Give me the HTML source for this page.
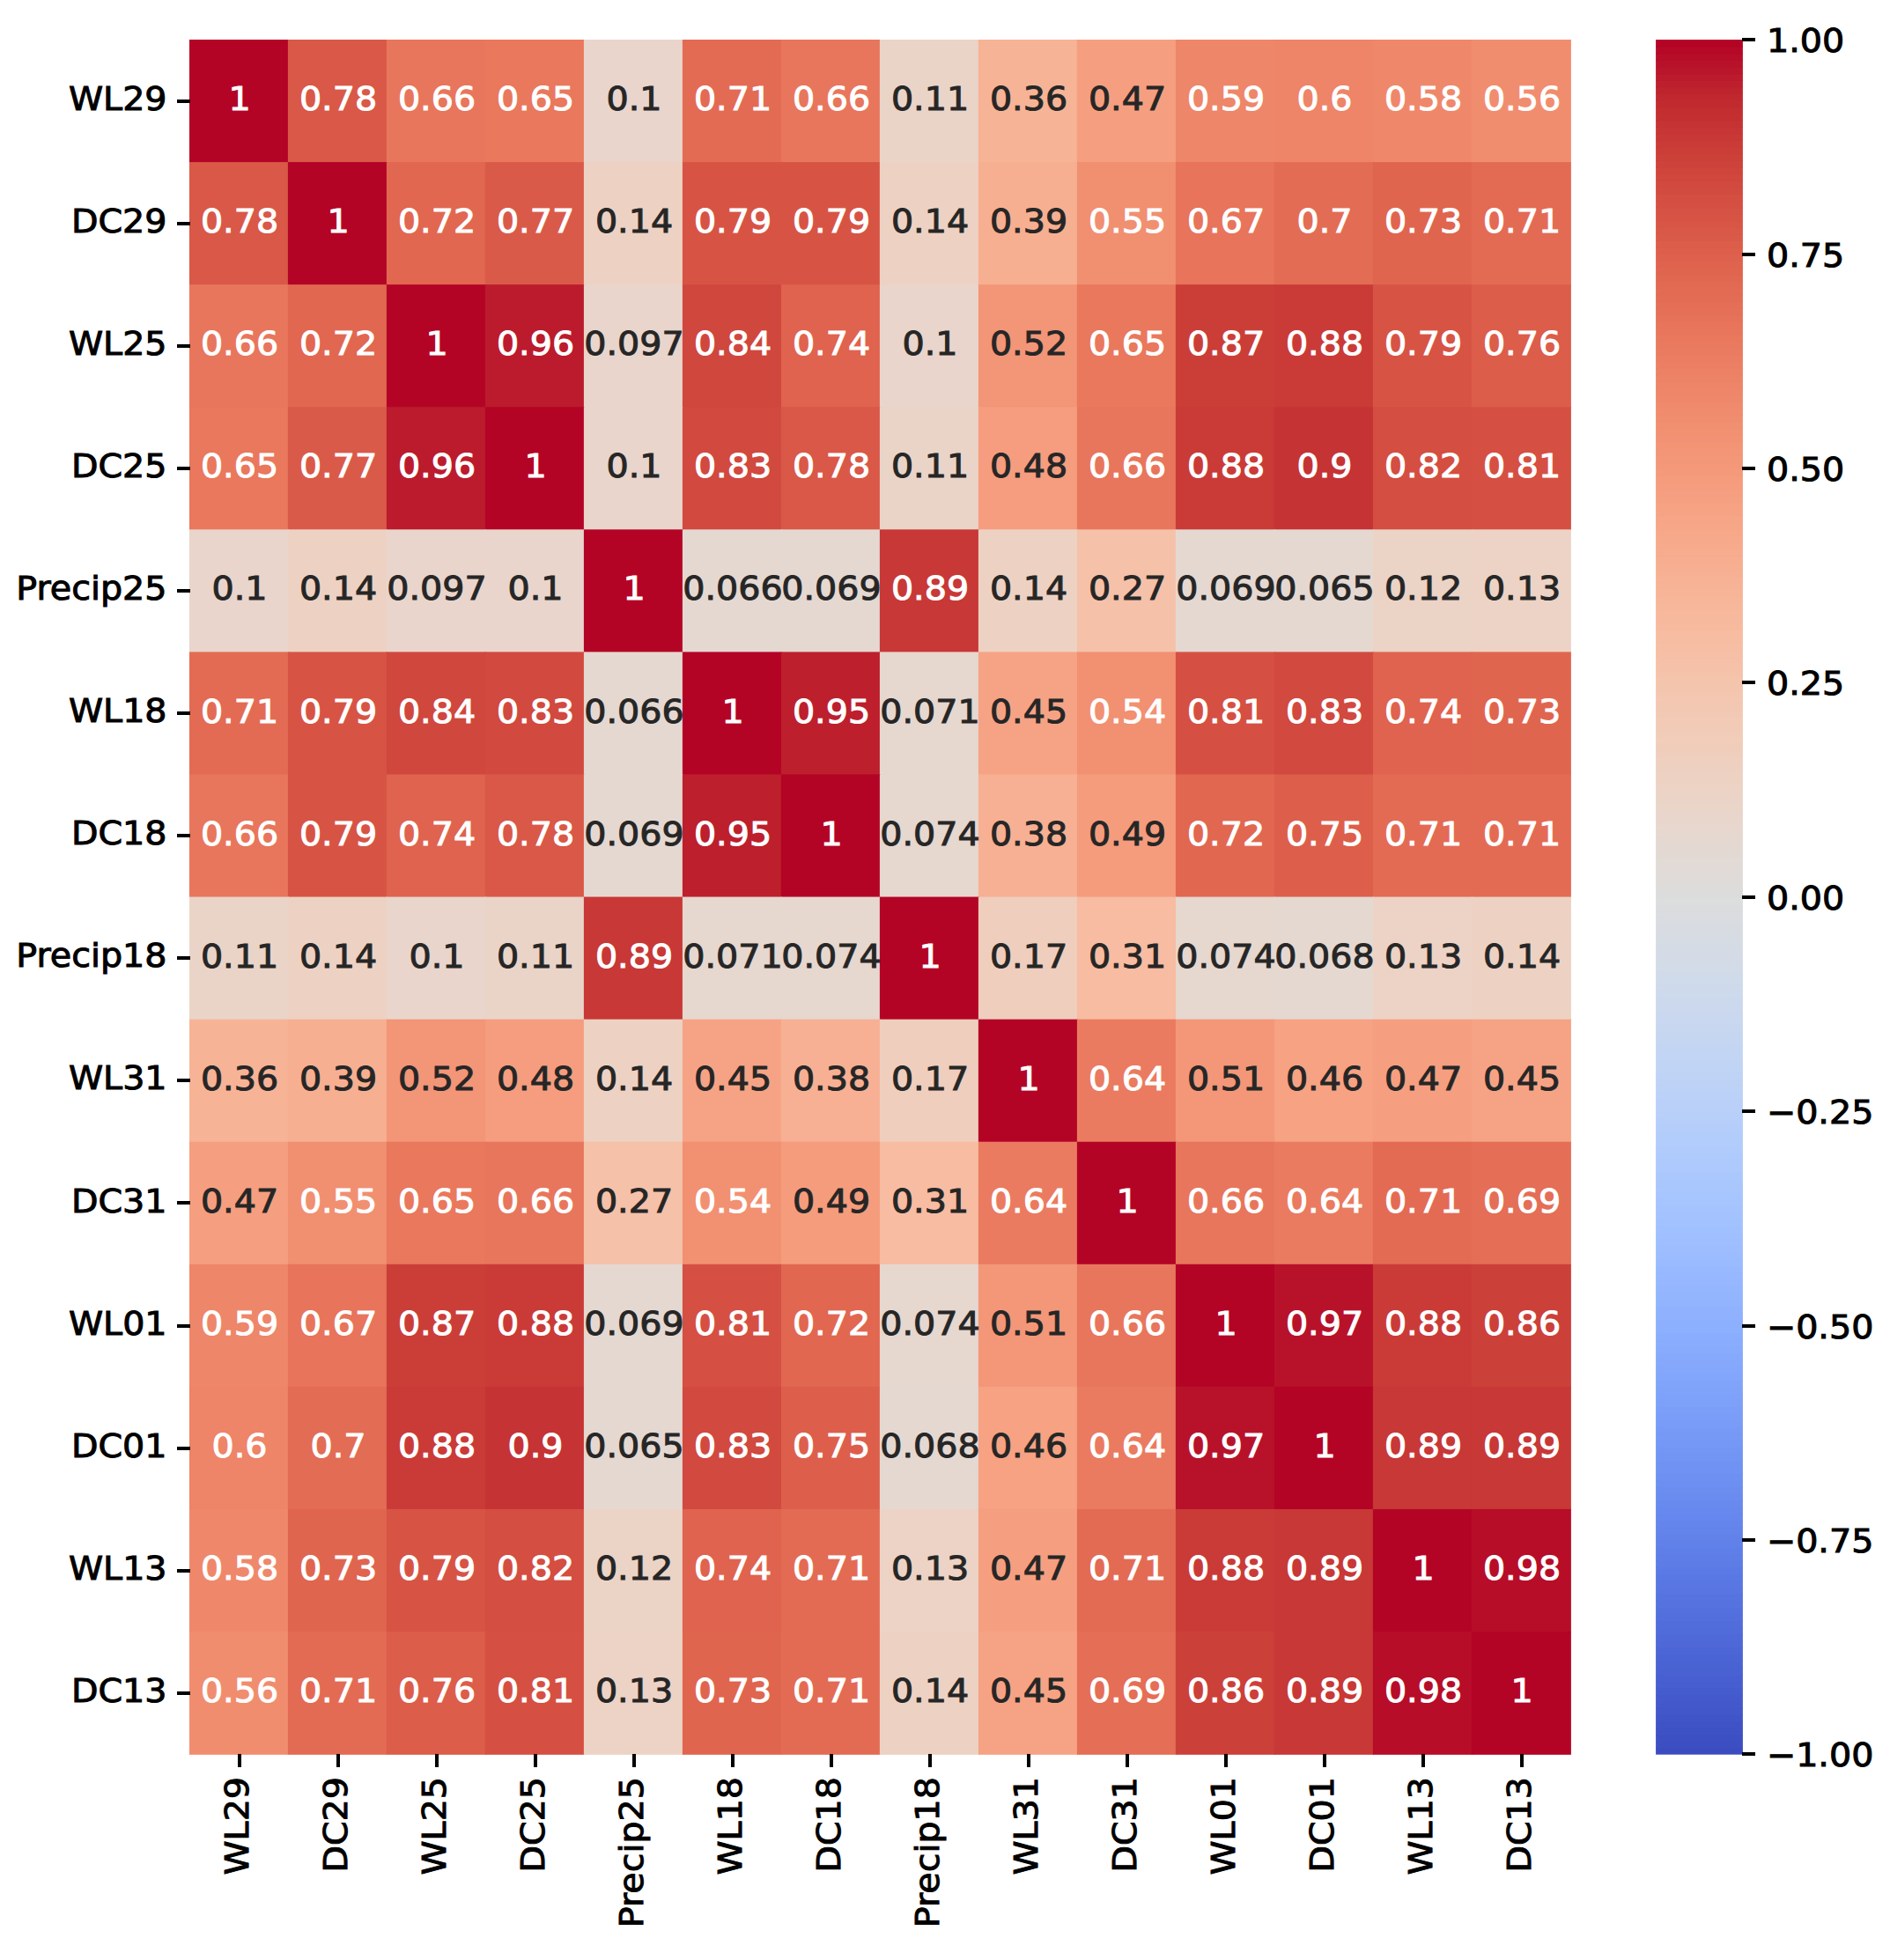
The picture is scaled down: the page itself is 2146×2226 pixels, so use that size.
<!DOCTYPE html>
<html lang="en"><head><meta charset="utf-8"><title>Correlation heatmap</title>
<style>html,body{margin:0;padding:0;background:#fff}body{width:2146px;height:2226px;overflow:hidden}svg{display:block}text{font-family:"DejaVu Sans","Liberation Sans",sans-serif;font-size:38px}.a{text-anchor:middle}.w{fill:#fff;stroke:#fff}.d{fill:#262626;stroke:#262626}.k{fill:#000;stroke:#000}text{stroke-width:1px;stroke-linejoin:miter}.e{text-anchor:end}</style></head><body>
<svg width="2146" height="2226" viewBox="0 0 2146 2226">
<rect width="2146" height="2226" fill="#fff"/>
<g>
<rect x="215.00" y="45.00" width="112.90" height="140.08" fill="#b40426"/>
<rect x="326.90" y="45.00" width="113.00" height="140.08" fill="#d95847"/>
<rect x="438.90" y="45.00" width="113.00" height="140.08" fill="#e8765c"/>
<rect x="550.90" y="45.00" width="113.00" height="140.08" fill="#e9785d"/>
<rect x="662.90" y="45.00" width="113.00" height="140.08" fill="#e9d5cb"/>
<rect x="774.90" y="45.00" width="113.00" height="140.08" fill="#e36b54"/>
<rect x="886.90" y="45.00" width="113.00" height="140.08" fill="#e8765c"/>
<rect x="998.90" y="45.00" width="113.00" height="140.08" fill="#ead4c8"/>
<rect x="1110.90" y="45.00" width="113.00" height="140.08" fill="#f7b396"/>
<rect x="1222.90" y="45.00" width="113.00" height="140.08" fill="#f59f80"/>
<rect x="1334.90" y="45.00" width="113.00" height="140.08" fill="#ee8669"/>
<rect x="1446.90" y="45.00" width="113.00" height="140.08" fill="#ee8468"/>
<rect x="1558.90" y="45.00" width="113.00" height="140.08" fill="#ef886b"/>
<rect x="1670.90" y="45.00" width="113.00" height="140.08" fill="#f18d6f"/>
<rect x="215.00" y="184.08" width="112.90" height="140.08" fill="#d95847"/>
<rect x="326.90" y="184.08" width="113.00" height="140.08" fill="#b40426"/>
<rect x="438.90" y="184.08" width="113.00" height="140.08" fill="#e16751"/>
<rect x="550.90" y="184.08" width="113.00" height="140.08" fill="#da5a49"/>
<rect x="662.90" y="184.08" width="113.00" height="140.08" fill="#edd2c3"/>
<rect x="774.90" y="184.08" width="113.00" height="140.08" fill="#d75445"/>
<rect x="886.90" y="184.08" width="113.00" height="140.08" fill="#d75445"/>
<rect x="998.90" y="184.08" width="113.00" height="140.08" fill="#edd2c3"/>
<rect x="1110.90" y="184.08" width="113.00" height="140.08" fill="#f7af91"/>
<rect x="1222.90" y="184.08" width="113.00" height="140.08" fill="#f18f71"/>
<rect x="1334.90" y="184.08" width="113.00" height="140.08" fill="#e7745b"/>
<rect x="1446.90" y="184.08" width="113.00" height="140.08" fill="#e36c55"/>
<rect x="1558.90" y="184.08" width="113.00" height="140.08" fill="#e0654f"/>
<rect x="1670.90" y="184.08" width="113.00" height="140.08" fill="#e36b54"/>
<rect x="215.00" y="323.16" width="112.90" height="140.08" fill="#e8765c"/>
<rect x="326.90" y="323.16" width="113.00" height="140.08" fill="#e16751"/>
<rect x="438.90" y="323.16" width="113.00" height="140.08" fill="#b40426"/>
<rect x="550.90" y="323.16" width="113.00" height="140.08" fill="#bb1b2c"/>
<rect x="662.90" y="323.16" width="113.00" height="140.08" fill="#e9d5cb"/>
<rect x="774.90" y="323.16" width="113.00" height="140.08" fill="#d0473d"/>
<rect x="886.90" y="323.16" width="113.00" height="140.08" fill="#df634e"/>
<rect x="998.90" y="323.16" width="113.00" height="140.08" fill="#e9d5cb"/>
<rect x="1110.90" y="323.16" width="113.00" height="140.08" fill="#f39577"/>
<rect x="1222.90" y="323.16" width="113.00" height="140.08" fill="#e9785d"/>
<rect x="1334.90" y="323.16" width="113.00" height="140.08" fill="#cb3e38"/>
<rect x="1446.90" y="323.16" width="113.00" height="140.08" fill="#ca3b37"/>
<rect x="1558.90" y="323.16" width="113.00" height="140.08" fill="#d75445"/>
<rect x="1670.90" y="323.16" width="113.00" height="140.08" fill="#dc5d4a"/>
<rect x="215.00" y="462.24" width="112.90" height="140.08" fill="#e9785d"/>
<rect x="326.90" y="462.24" width="113.00" height="140.08" fill="#da5a49"/>
<rect x="438.90" y="462.24" width="113.00" height="140.08" fill="#bb1b2c"/>
<rect x="550.90" y="462.24" width="113.00" height="140.08" fill="#b40426"/>
<rect x="662.90" y="462.24" width="113.00" height="140.08" fill="#e9d5cb"/>
<rect x="774.90" y="462.24" width="113.00" height="140.08" fill="#d1493f"/>
<rect x="886.90" y="462.24" width="113.00" height="140.08" fill="#d95847"/>
<rect x="998.90" y="462.24" width="113.00" height="140.08" fill="#ead4c8"/>
<rect x="1110.90" y="462.24" width="113.00" height="140.08" fill="#f59d7e"/>
<rect x="1222.90" y="462.24" width="113.00" height="140.08" fill="#e8765c"/>
<rect x="1334.90" y="462.24" width="113.00" height="140.08" fill="#ca3b37"/>
<rect x="1446.90" y="462.24" width="113.00" height="140.08" fill="#c53334"/>
<rect x="1558.90" y="462.24" width="113.00" height="140.08" fill="#d44e41"/>
<rect x="1670.90" y="462.24" width="113.00" height="140.08" fill="#d55042"/>
<rect x="215.00" y="601.32" width="112.90" height="140.08" fill="#e9d5cb"/>
<rect x="326.90" y="601.32" width="113.00" height="140.08" fill="#edd2c3"/>
<rect x="438.90" y="601.32" width="113.00" height="140.08" fill="#e9d5cb"/>
<rect x="550.90" y="601.32" width="113.00" height="140.08" fill="#e9d5cb"/>
<rect x="662.90" y="601.32" width="113.00" height="140.08" fill="#b40426"/>
<rect x="774.90" y="601.32" width="113.00" height="140.08" fill="#e5d8d1"/>
<rect x="886.90" y="601.32" width="113.00" height="140.08" fill="#e5d8d1"/>
<rect x="998.90" y="601.32" width="113.00" height="140.08" fill="#c83836"/>
<rect x="1110.90" y="601.32" width="113.00" height="140.08" fill="#edd2c3"/>
<rect x="1222.90" y="601.32" width="113.00" height="140.08" fill="#f5c1a9"/>
<rect x="1334.90" y="601.32" width="113.00" height="140.08" fill="#e5d8d1"/>
<rect x="1446.90" y="601.32" width="113.00" height="140.08" fill="#e5d8d1"/>
<rect x="1558.90" y="601.32" width="113.00" height="140.08" fill="#ebd3c6"/>
<rect x="1670.90" y="601.32" width="113.00" height="140.08" fill="#ecd3c5"/>
<rect x="215.00" y="740.40" width="112.90" height="140.08" fill="#e36b54"/>
<rect x="326.90" y="740.40" width="113.00" height="140.08" fill="#d75445"/>
<rect x="438.90" y="740.40" width="113.00" height="140.08" fill="#d0473d"/>
<rect x="550.90" y="740.40" width="113.00" height="140.08" fill="#d1493f"/>
<rect x="662.90" y="740.40" width="113.00" height="140.08" fill="#e5d8d1"/>
<rect x="774.90" y="740.40" width="113.00" height="140.08" fill="#b40426"/>
<rect x="886.90" y="740.40" width="113.00" height="140.08" fill="#bd1f2d"/>
<rect x="998.90" y="740.40" width="113.00" height="140.08" fill="#e6d7cf"/>
<rect x="1110.90" y="740.40" width="113.00" height="140.08" fill="#f6a385"/>
<rect x="1222.90" y="740.40" width="113.00" height="140.08" fill="#f29072"/>
<rect x="1334.90" y="740.40" width="113.00" height="140.08" fill="#d55042"/>
<rect x="1446.90" y="740.40" width="113.00" height="140.08" fill="#d1493f"/>
<rect x="1558.90" y="740.40" width="113.00" height="140.08" fill="#df634e"/>
<rect x="1670.90" y="740.40" width="113.00" height="140.08" fill="#e0654f"/>
<rect x="215.00" y="879.48" width="112.90" height="140.08" fill="#e8765c"/>
<rect x="326.90" y="879.48" width="113.00" height="140.08" fill="#d75445"/>
<rect x="438.90" y="879.48" width="113.00" height="140.08" fill="#df634e"/>
<rect x="550.90" y="879.48" width="113.00" height="140.08" fill="#d95847"/>
<rect x="662.90" y="879.48" width="113.00" height="140.08" fill="#e5d8d1"/>
<rect x="774.90" y="879.48" width="113.00" height="140.08" fill="#bd1f2d"/>
<rect x="886.90" y="879.48" width="113.00" height="140.08" fill="#b40426"/>
<rect x="998.90" y="879.48" width="113.00" height="140.08" fill="#e6d7cf"/>
<rect x="1110.90" y="879.48" width="113.00" height="140.08" fill="#f7b093"/>
<rect x="1222.90" y="879.48" width="113.00" height="140.08" fill="#f59c7d"/>
<rect x="1334.90" y="879.48" width="113.00" height="140.08" fill="#e16751"/>
<rect x="1446.90" y="879.48" width="113.00" height="140.08" fill="#dd5f4b"/>
<rect x="1558.90" y="879.48" width="113.00" height="140.08" fill="#e36b54"/>
<rect x="1670.90" y="879.48" width="113.00" height="140.08" fill="#e36b54"/>
<rect x="215.00" y="1018.56" width="112.90" height="140.08" fill="#ead4c8"/>
<rect x="326.90" y="1018.56" width="113.00" height="140.08" fill="#edd2c3"/>
<rect x="438.90" y="1018.56" width="113.00" height="140.08" fill="#e9d5cb"/>
<rect x="550.90" y="1018.56" width="113.00" height="140.08" fill="#ead4c8"/>
<rect x="662.90" y="1018.56" width="113.00" height="140.08" fill="#c83836"/>
<rect x="774.90" y="1018.56" width="113.00" height="140.08" fill="#e6d7cf"/>
<rect x="886.90" y="1018.56" width="113.00" height="140.08" fill="#e6d7cf"/>
<rect x="998.90" y="1018.56" width="113.00" height="140.08" fill="#b40426"/>
<rect x="1110.90" y="1018.56" width="113.00" height="140.08" fill="#efcebd"/>
<rect x="1222.90" y="1018.56" width="113.00" height="140.08" fill="#f7bca1"/>
<rect x="1334.90" y="1018.56" width="113.00" height="140.08" fill="#e6d7cf"/>
<rect x="1446.90" y="1018.56" width="113.00" height="140.08" fill="#e5d8d1"/>
<rect x="1558.90" y="1018.56" width="113.00" height="140.08" fill="#ecd3c5"/>
<rect x="1670.90" y="1018.56" width="113.00" height="140.08" fill="#edd2c3"/>
<rect x="215.00" y="1157.64" width="112.90" height="140.08" fill="#f7b396"/>
<rect x="326.90" y="1157.64" width="113.00" height="140.08" fill="#f7af91"/>
<rect x="438.90" y="1157.64" width="113.00" height="140.08" fill="#f39577"/>
<rect x="550.90" y="1157.64" width="113.00" height="140.08" fill="#f59d7e"/>
<rect x="662.90" y="1157.64" width="113.00" height="140.08" fill="#edd2c3"/>
<rect x="774.90" y="1157.64" width="113.00" height="140.08" fill="#f6a385"/>
<rect x="886.90" y="1157.64" width="113.00" height="140.08" fill="#f7b093"/>
<rect x="998.90" y="1157.64" width="113.00" height="140.08" fill="#efcebd"/>
<rect x="1110.90" y="1157.64" width="113.00" height="140.08" fill="#b40426"/>
<rect x="1222.90" y="1157.64" width="113.00" height="140.08" fill="#ea7b60"/>
<rect x="1334.90" y="1157.64" width="113.00" height="140.08" fill="#f39778"/>
<rect x="1446.90" y="1157.64" width="113.00" height="140.08" fill="#f6a283"/>
<rect x="1558.90" y="1157.64" width="113.00" height="140.08" fill="#f59f80"/>
<rect x="1670.90" y="1157.64" width="113.00" height="140.08" fill="#f6a385"/>
<rect x="215.00" y="1296.72" width="112.90" height="140.08" fill="#f59f80"/>
<rect x="326.90" y="1296.72" width="113.00" height="140.08" fill="#f18f71"/>
<rect x="438.90" y="1296.72" width="113.00" height="140.08" fill="#e9785d"/>
<rect x="550.90" y="1296.72" width="113.00" height="140.08" fill="#e8765c"/>
<rect x="662.90" y="1296.72" width="113.00" height="140.08" fill="#f5c1a9"/>
<rect x="774.90" y="1296.72" width="113.00" height="140.08" fill="#f29072"/>
<rect x="886.90" y="1296.72" width="113.00" height="140.08" fill="#f59c7d"/>
<rect x="998.90" y="1296.72" width="113.00" height="140.08" fill="#f7bca1"/>
<rect x="1110.90" y="1296.72" width="113.00" height="140.08" fill="#ea7b60"/>
<rect x="1222.90" y="1296.72" width="113.00" height="140.08" fill="#b40426"/>
<rect x="1334.90" y="1296.72" width="113.00" height="140.08" fill="#e8765c"/>
<rect x="1446.90" y="1296.72" width="113.00" height="140.08" fill="#ea7b60"/>
<rect x="1558.90" y="1296.72" width="113.00" height="140.08" fill="#e36b54"/>
<rect x="1670.90" y="1296.72" width="113.00" height="140.08" fill="#e46e56"/>
<rect x="215.00" y="1435.80" width="112.90" height="140.08" fill="#ee8669"/>
<rect x="326.90" y="1435.80" width="113.00" height="140.08" fill="#e7745b"/>
<rect x="438.90" y="1435.80" width="113.00" height="140.08" fill="#cb3e38"/>
<rect x="550.90" y="1435.80" width="113.00" height="140.08" fill="#ca3b37"/>
<rect x="662.90" y="1435.80" width="113.00" height="140.08" fill="#e5d8d1"/>
<rect x="774.90" y="1435.80" width="113.00" height="140.08" fill="#d55042"/>
<rect x="886.90" y="1435.80" width="113.00" height="140.08" fill="#e16751"/>
<rect x="998.90" y="1435.80" width="113.00" height="140.08" fill="#e6d7cf"/>
<rect x="1110.90" y="1435.80" width="113.00" height="140.08" fill="#f39778"/>
<rect x="1222.90" y="1435.80" width="113.00" height="140.08" fill="#e8765c"/>
<rect x="1334.90" y="1435.80" width="113.00" height="140.08" fill="#b40426"/>
<rect x="1446.90" y="1435.80" width="113.00" height="140.08" fill="#b8122a"/>
<rect x="1558.90" y="1435.80" width="113.00" height="140.08" fill="#ca3b37"/>
<rect x="1670.90" y="1435.80" width="113.00" height="140.08" fill="#cc403a"/>
<rect x="215.00" y="1574.88" width="112.90" height="140.08" fill="#ee8468"/>
<rect x="326.90" y="1574.88" width="113.00" height="140.08" fill="#e36c55"/>
<rect x="438.90" y="1574.88" width="113.00" height="140.08" fill="#ca3b37"/>
<rect x="550.90" y="1574.88" width="113.00" height="140.08" fill="#c53334"/>
<rect x="662.90" y="1574.88" width="113.00" height="140.08" fill="#e5d8d1"/>
<rect x="774.90" y="1574.88" width="113.00" height="140.08" fill="#d1493f"/>
<rect x="886.90" y="1574.88" width="113.00" height="140.08" fill="#dd5f4b"/>
<rect x="998.90" y="1574.88" width="113.00" height="140.08" fill="#e5d8d1"/>
<rect x="1110.90" y="1574.88" width="113.00" height="140.08" fill="#f6a283"/>
<rect x="1222.90" y="1574.88" width="113.00" height="140.08" fill="#ea7b60"/>
<rect x="1334.90" y="1574.88" width="113.00" height="140.08" fill="#b8122a"/>
<rect x="1446.90" y="1574.88" width="113.00" height="140.08" fill="#b40426"/>
<rect x="1558.90" y="1574.88" width="113.00" height="140.08" fill="#c83836"/>
<rect x="1670.90" y="1574.88" width="113.00" height="140.08" fill="#c83836"/>
<rect x="215.00" y="1713.96" width="112.90" height="140.08" fill="#ef886b"/>
<rect x="326.90" y="1713.96" width="113.00" height="140.08" fill="#e0654f"/>
<rect x="438.90" y="1713.96" width="113.00" height="140.08" fill="#d75445"/>
<rect x="550.90" y="1713.96" width="113.00" height="140.08" fill="#d44e41"/>
<rect x="662.90" y="1713.96" width="113.00" height="140.08" fill="#ebd3c6"/>
<rect x="774.90" y="1713.96" width="113.00" height="140.08" fill="#df634e"/>
<rect x="886.90" y="1713.96" width="113.00" height="140.08" fill="#e36b54"/>
<rect x="998.90" y="1713.96" width="113.00" height="140.08" fill="#ecd3c5"/>
<rect x="1110.90" y="1713.96" width="113.00" height="140.08" fill="#f59f80"/>
<rect x="1222.90" y="1713.96" width="113.00" height="140.08" fill="#e36b54"/>
<rect x="1334.90" y="1713.96" width="113.00" height="140.08" fill="#ca3b37"/>
<rect x="1446.90" y="1713.96" width="113.00" height="140.08" fill="#c83836"/>
<rect x="1558.90" y="1713.96" width="113.00" height="140.08" fill="#b40426"/>
<rect x="1670.90" y="1713.96" width="113.00" height="140.08" fill="#b70d28"/>
<rect x="215.00" y="1853.04" width="112.90" height="139.81" fill="#f18d6f"/>
<rect x="326.90" y="1853.04" width="113.00" height="139.81" fill="#e36b54"/>
<rect x="438.90" y="1853.04" width="113.00" height="139.81" fill="#dc5d4a"/>
<rect x="550.90" y="1853.04" width="113.00" height="139.81" fill="#d55042"/>
<rect x="662.90" y="1853.04" width="113.00" height="139.81" fill="#ecd3c5"/>
<rect x="774.90" y="1853.04" width="113.00" height="139.81" fill="#e0654f"/>
<rect x="886.90" y="1853.04" width="113.00" height="139.81" fill="#e36b54"/>
<rect x="998.90" y="1853.04" width="113.00" height="139.81" fill="#edd2c3"/>
<rect x="1110.90" y="1853.04" width="113.00" height="139.81" fill="#f6a385"/>
<rect x="1222.90" y="1853.04" width="113.00" height="139.81" fill="#e46e56"/>
<rect x="1334.90" y="1853.04" width="113.00" height="139.81" fill="#cc403a"/>
<rect x="1446.90" y="1853.04" width="113.00" height="139.81" fill="#c83836"/>
<rect x="1558.90" y="1853.04" width="113.00" height="139.81" fill="#b70d28"/>
<rect x="1670.90" y="1853.04" width="113.00" height="139.81" fill="#b40426"/>
</g>
<g>
<rect x="1880.10" y="1985.09" width="98.80" height="7.61" fill="#3b4cc0"/>
<rect x="1880.10" y="1977.48" width="98.80" height="8.61" fill="#3c4ec2"/>
<rect x="1880.10" y="1969.88" width="98.80" height="8.61" fill="#3d50c3"/>
<rect x="1880.10" y="1962.27" width="98.80" height="8.61" fill="#3e51c5"/>
<rect x="1880.10" y="1954.66" width="98.80" height="8.61" fill="#3f53c6"/>
<rect x="1880.10" y="1947.05" width="98.80" height="8.61" fill="#4055c8"/>
<rect x="1880.10" y="1939.44" width="98.80" height="8.61" fill="#4257c9"/>
<rect x="1880.10" y="1931.84" width="98.80" height="8.61" fill="#4358cb"/>
<rect x="1880.10" y="1924.23" width="98.80" height="8.61" fill="#445acc"/>
<rect x="1880.10" y="1916.62" width="98.80" height="8.61" fill="#455cce"/>
<rect x="1880.10" y="1909.01" width="98.80" height="8.61" fill="#465ecf"/>
<rect x="1880.10" y="1901.41" width="98.80" height="8.61" fill="#485fd1"/>
<rect x="1880.10" y="1893.80" width="98.80" height="8.61" fill="#4961d2"/>
<rect x="1880.10" y="1886.19" width="98.80" height="8.61" fill="#4a63d3"/>
<rect x="1880.10" y="1878.58" width="98.80" height="8.61" fill="#4b64d5"/>
<rect x="1880.10" y="1870.97" width="98.80" height="8.61" fill="#4c66d6"/>
<rect x="1880.10" y="1863.37" width="98.80" height="8.61" fill="#4e68d8"/>
<rect x="1880.10" y="1855.76" width="98.80" height="8.61" fill="#4f69d9"/>
<rect x="1880.10" y="1848.15" width="98.80" height="8.61" fill="#506bda"/>
<rect x="1880.10" y="1840.54" width="98.80" height="8.61" fill="#516ddb"/>
<rect x="1880.10" y="1832.93" width="98.80" height="8.61" fill="#536edd"/>
<rect x="1880.10" y="1825.33" width="98.80" height="8.61" fill="#5470de"/>
<rect x="1880.10" y="1817.72" width="98.80" height="8.61" fill="#5572df"/>
<rect x="1880.10" y="1810.11" width="98.80" height="8.61" fill="#5673e0"/>
<rect x="1880.10" y="1802.50" width="98.80" height="8.61" fill="#5875e1"/>
<rect x="1880.10" y="1794.89" width="98.80" height="8.61" fill="#5977e3"/>
<rect x="1880.10" y="1787.29" width="98.80" height="8.61" fill="#5a78e4"/>
<rect x="1880.10" y="1779.68" width="98.80" height="8.61" fill="#5b7ae5"/>
<rect x="1880.10" y="1772.07" width="98.80" height="8.61" fill="#5d7ce6"/>
<rect x="1880.10" y="1764.46" width="98.80" height="8.61" fill="#5e7de7"/>
<rect x="1880.10" y="1756.86" width="98.80" height="8.61" fill="#5f7fe8"/>
<rect x="1880.10" y="1749.25" width="98.80" height="8.61" fill="#6180e9"/>
<rect x="1880.10" y="1741.64" width="98.80" height="8.61" fill="#6282ea"/>
<rect x="1880.10" y="1734.03" width="98.80" height="8.61" fill="#6384eb"/>
<rect x="1880.10" y="1726.42" width="98.80" height="8.61" fill="#6485ec"/>
<rect x="1880.10" y="1718.82" width="98.80" height="8.61" fill="#6687ed"/>
<rect x="1880.10" y="1711.21" width="98.80" height="8.61" fill="#6788ee"/>
<rect x="1880.10" y="1703.60" width="98.80" height="8.61" fill="#688aef"/>
<rect x="1880.10" y="1695.99" width="98.80" height="8.61" fill="#6a8bef"/>
<rect x="1880.10" y="1688.38" width="98.80" height="8.61" fill="#6b8df0"/>
<rect x="1880.10" y="1680.78" width="98.80" height="8.61" fill="#6c8ff1"/>
<rect x="1880.10" y="1673.17" width="98.80" height="8.61" fill="#6e90f2"/>
<rect x="1880.10" y="1665.56" width="98.80" height="8.61" fill="#6f92f3"/>
<rect x="1880.10" y="1657.95" width="98.80" height="8.61" fill="#7093f3"/>
<rect x="1880.10" y="1650.34" width="98.80" height="8.61" fill="#7295f4"/>
<rect x="1880.10" y="1642.74" width="98.80" height="8.61" fill="#7396f5"/>
<rect x="1880.10" y="1635.13" width="98.80" height="8.61" fill="#7597f6"/>
<rect x="1880.10" y="1627.52" width="98.80" height="8.61" fill="#7699f6"/>
<rect x="1880.10" y="1619.91" width="98.80" height="8.61" fill="#779af7"/>
<rect x="1880.10" y="1612.31" width="98.80" height="8.61" fill="#799cf8"/>
<rect x="1880.10" y="1604.70" width="98.80" height="8.61" fill="#7a9df8"/>
<rect x="1880.10" y="1597.09" width="98.80" height="8.61" fill="#7b9ff9"/>
<rect x="1880.10" y="1589.48" width="98.80" height="8.61" fill="#7da0f9"/>
<rect x="1880.10" y="1581.87" width="98.80" height="8.61" fill="#7ea1fa"/>
<rect x="1880.10" y="1574.27" width="98.80" height="8.61" fill="#80a3fa"/>
<rect x="1880.10" y="1566.66" width="98.80" height="8.61" fill="#81a4fb"/>
<rect x="1880.10" y="1559.05" width="98.80" height="8.61" fill="#82a6fb"/>
<rect x="1880.10" y="1551.44" width="98.80" height="8.61" fill="#84a7fc"/>
<rect x="1880.10" y="1543.83" width="98.80" height="8.61" fill="#85a8fc"/>
<rect x="1880.10" y="1536.23" width="98.80" height="8.61" fill="#86a9fc"/>
<rect x="1880.10" y="1528.62" width="98.80" height="8.61" fill="#88abfd"/>
<rect x="1880.10" y="1521.01" width="98.80" height="8.61" fill="#89acfd"/>
<rect x="1880.10" y="1513.40" width="98.80" height="8.61" fill="#8badfd"/>
<rect x="1880.10" y="1505.80" width="98.80" height="8.61" fill="#8caffe"/>
<rect x="1880.10" y="1498.19" width="98.80" height="8.61" fill="#8db0fe"/>
<rect x="1880.10" y="1490.58" width="98.80" height="8.61" fill="#8fb1fe"/>
<rect x="1880.10" y="1482.97" width="98.80" height="8.61" fill="#90b2fe"/>
<rect x="1880.10" y="1475.36" width="98.80" height="8.61" fill="#92b4fe"/>
<rect x="1880.10" y="1467.76" width="98.80" height="8.61" fill="#93b5fe"/>
<rect x="1880.10" y="1460.15" width="98.80" height="8.61" fill="#94b6ff"/>
<rect x="1880.10" y="1452.54" width="98.80" height="8.61" fill="#96b7ff"/>
<rect x="1880.10" y="1444.93" width="98.80" height="8.61" fill="#97b8ff"/>
<rect x="1880.10" y="1437.32" width="98.80" height="8.61" fill="#98b9ff"/>
<rect x="1880.10" y="1429.72" width="98.80" height="8.61" fill="#9abbff"/>
<rect x="1880.10" y="1422.11" width="98.80" height="8.61" fill="#9bbcff"/>
<rect x="1880.10" y="1414.50" width="98.80" height="8.61" fill="#9dbdff"/>
<rect x="1880.10" y="1406.89" width="98.80" height="8.61" fill="#9ebeff"/>
<rect x="1880.10" y="1399.28" width="98.80" height="8.61" fill="#9fbfff"/>
<rect x="1880.10" y="1391.68" width="98.80" height="8.61" fill="#a1c0ff"/>
<rect x="1880.10" y="1384.07" width="98.80" height="8.61" fill="#a2c1ff"/>
<rect x="1880.10" y="1376.46" width="98.80" height="8.61" fill="#a3c2fe"/>
<rect x="1880.10" y="1368.85" width="98.80" height="8.61" fill="#a5c3fe"/>
<rect x="1880.10" y="1361.25" width="98.80" height="8.61" fill="#a6c4fe"/>
<rect x="1880.10" y="1353.64" width="98.80" height="8.61" fill="#a7c5fe"/>
<rect x="1880.10" y="1346.03" width="98.80" height="8.61" fill="#a9c6fd"/>
<rect x="1880.10" y="1338.42" width="98.80" height="8.61" fill="#aac7fd"/>
<rect x="1880.10" y="1330.81" width="98.80" height="8.61" fill="#abc8fd"/>
<rect x="1880.10" y="1323.21" width="98.80" height="8.61" fill="#adc9fd"/>
<rect x="1880.10" y="1315.60" width="98.80" height="8.61" fill="#aec9fc"/>
<rect x="1880.10" y="1307.99" width="98.80" height="8.61" fill="#afcafc"/>
<rect x="1880.10" y="1300.38" width="98.80" height="8.61" fill="#b1cbfc"/>
<rect x="1880.10" y="1292.77" width="98.80" height="8.61" fill="#b2ccfb"/>
<rect x="1880.10" y="1285.17" width="98.80" height="8.61" fill="#b3cdfb"/>
<rect x="1880.10" y="1277.56" width="98.80" height="8.61" fill="#b5cdfa"/>
<rect x="1880.10" y="1269.95" width="98.80" height="8.61" fill="#b6cefa"/>
<rect x="1880.10" y="1262.34" width="98.80" height="8.61" fill="#b7cff9"/>
<rect x="1880.10" y="1254.73" width="98.80" height="8.61" fill="#b9d0f9"/>
<rect x="1880.10" y="1247.13" width="98.80" height="8.61" fill="#bad0f8"/>
<rect x="1880.10" y="1239.52" width="98.80" height="8.61" fill="#bbd1f8"/>
<rect x="1880.10" y="1231.91" width="98.80" height="8.61" fill="#bcd2f7"/>
<rect x="1880.10" y="1224.30" width="98.80" height="8.61" fill="#bed2f6"/>
<rect x="1880.10" y="1216.70" width="98.80" height="8.61" fill="#bfd3f6"/>
<rect x="1880.10" y="1209.09" width="98.80" height="8.61" fill="#c0d4f5"/>
<rect x="1880.10" y="1201.48" width="98.80" height="8.61" fill="#c1d4f4"/>
<rect x="1880.10" y="1193.87" width="98.80" height="8.61" fill="#c3d5f4"/>
<rect x="1880.10" y="1186.26" width="98.80" height="8.61" fill="#c4d5f3"/>
<rect x="1880.10" y="1178.66" width="98.80" height="8.61" fill="#c5d6f2"/>
<rect x="1880.10" y="1171.05" width="98.80" height="8.61" fill="#c6d6f1"/>
<rect x="1880.10" y="1163.44" width="98.80" height="8.61" fill="#c7d7f0"/>
<rect x="1880.10" y="1155.83" width="98.80" height="8.61" fill="#c9d7f0"/>
<rect x="1880.10" y="1148.22" width="98.80" height="8.61" fill="#cad8ef"/>
<rect x="1880.10" y="1140.62" width="98.80" height="8.61" fill="#cbd8ee"/>
<rect x="1880.10" y="1133.01" width="98.80" height="8.61" fill="#ccd9ed"/>
<rect x="1880.10" y="1125.40" width="98.80" height="8.61" fill="#cdd9ec"/>
<rect x="1880.10" y="1117.79" width="98.80" height="8.61" fill="#cedaeb"/>
<rect x="1880.10" y="1110.18" width="98.80" height="8.61" fill="#cfdaea"/>
<rect x="1880.10" y="1102.58" width="98.80" height="8.61" fill="#d1dae9"/>
<rect x="1880.10" y="1094.97" width="98.80" height="8.61" fill="#d2dbe8"/>
<rect x="1880.10" y="1087.36" width="98.80" height="8.61" fill="#d3dbe7"/>
<rect x="1880.10" y="1079.75" width="98.80" height="8.61" fill="#d4dbe6"/>
<rect x="1880.10" y="1072.15" width="98.80" height="8.61" fill="#d5dbe5"/>
<rect x="1880.10" y="1064.54" width="98.80" height="8.61" fill="#d6dce4"/>
<rect x="1880.10" y="1056.93" width="98.80" height="8.61" fill="#d7dce3"/>
<rect x="1880.10" y="1049.32" width="98.80" height="8.61" fill="#d8dce2"/>
<rect x="1880.10" y="1041.71" width="98.80" height="8.61" fill="#d9dce1"/>
<rect x="1880.10" y="1034.11" width="98.80" height="8.61" fill="#dadce0"/>
<rect x="1880.10" y="1026.50" width="98.80" height="8.61" fill="#dbdcde"/>
<rect x="1880.10" y="1018.89" width="98.80" height="8.61" fill="#dcdddd"/>
<rect x="1880.10" y="1011.28" width="98.80" height="8.61" fill="#dddcdc"/>
<rect x="1880.10" y="1003.67" width="98.80" height="8.61" fill="#dedcdb"/>
<rect x="1880.10" y="996.07" width="98.80" height="8.61" fill="#dfdbd9"/>
<rect x="1880.10" y="988.46" width="98.80" height="8.61" fill="#e0dbd8"/>
<rect x="1880.10" y="980.85" width="98.80" height="8.61" fill="#e1dad6"/>
<rect x="1880.10" y="973.24" width="98.80" height="8.61" fill="#e2dad5"/>
<rect x="1880.10" y="965.63" width="98.80" height="8.61" fill="#e3d9d3"/>
<rect x="1880.10" y="958.03" width="98.80" height="8.61" fill="#e4d9d2"/>
<rect x="1880.10" y="950.42" width="98.80" height="8.61" fill="#e5d8d1"/>
<rect x="1880.10" y="942.81" width="98.80" height="8.61" fill="#e6d7cf"/>
<rect x="1880.10" y="935.20" width="98.80" height="8.61" fill="#e7d7ce"/>
<rect x="1880.10" y="927.60" width="98.80" height="8.61" fill="#e8d6cc"/>
<rect x="1880.10" y="919.99" width="98.80" height="8.61" fill="#e9d5cb"/>
<rect x="1880.10" y="912.38" width="98.80" height="8.61" fill="#ead5c9"/>
<rect x="1880.10" y="904.77" width="98.80" height="8.61" fill="#ead4c8"/>
<rect x="1880.10" y="897.16" width="98.80" height="8.61" fill="#ebd3c6"/>
<rect x="1880.10" y="889.56" width="98.80" height="8.61" fill="#ecd3c5"/>
<rect x="1880.10" y="881.95" width="98.80" height="8.61" fill="#edd2c3"/>
<rect x="1880.10" y="874.34" width="98.80" height="8.61" fill="#edd1c2"/>
<rect x="1880.10" y="866.73" width="98.80" height="8.61" fill="#eed0c0"/>
<rect x="1880.10" y="859.12" width="98.80" height="8.61" fill="#efcfbf"/>
<rect x="1880.10" y="851.52" width="98.80" height="8.61" fill="#efcebd"/>
<rect x="1880.10" y="843.91" width="98.80" height="8.61" fill="#f0cdbb"/>
<rect x="1880.10" y="836.30" width="98.80" height="8.61" fill="#f1cdba"/>
<rect x="1880.10" y="828.69" width="98.80" height="8.61" fill="#f1ccb8"/>
<rect x="1880.10" y="821.08" width="98.80" height="8.61" fill="#f2cbb7"/>
<rect x="1880.10" y="813.48" width="98.80" height="8.61" fill="#f2cab5"/>
<rect x="1880.10" y="805.87" width="98.80" height="8.61" fill="#f2c9b4"/>
<rect x="1880.10" y="798.26" width="98.80" height="8.61" fill="#f3c8b2"/>
<rect x="1880.10" y="790.65" width="98.80" height="8.61" fill="#f3c7b1"/>
<rect x="1880.10" y="783.05" width="98.80" height="8.61" fill="#f4c6af"/>
<rect x="1880.10" y="775.44" width="98.80" height="8.61" fill="#f4c5ad"/>
<rect x="1880.10" y="767.83" width="98.80" height="8.61" fill="#f5c4ac"/>
<rect x="1880.10" y="760.22" width="98.80" height="8.61" fill="#f5c2aa"/>
<rect x="1880.10" y="752.61" width="98.80" height="8.61" fill="#f5c1a9"/>
<rect x="1880.10" y="745.01" width="98.80" height="8.61" fill="#f5c0a7"/>
<rect x="1880.10" y="737.40" width="98.80" height="8.61" fill="#f6bfa6"/>
<rect x="1880.10" y="729.79" width="98.80" height="8.61" fill="#f6bea4"/>
<rect x="1880.10" y="722.18" width="98.80" height="8.61" fill="#f6bda2"/>
<rect x="1880.10" y="714.57" width="98.80" height="8.61" fill="#f7bca1"/>
<rect x="1880.10" y="706.97" width="98.80" height="8.61" fill="#f7ba9f"/>
<rect x="1880.10" y="699.36" width="98.80" height="8.61" fill="#f7b99e"/>
<rect x="1880.10" y="691.75" width="98.80" height="8.61" fill="#f7b89c"/>
<rect x="1880.10" y="684.14" width="98.80" height="8.61" fill="#f7b79b"/>
<rect x="1880.10" y="676.53" width="98.80" height="8.61" fill="#f7b599"/>
<rect x="1880.10" y="668.93" width="98.80" height="8.61" fill="#f7b497"/>
<rect x="1880.10" y="661.32" width="98.80" height="8.61" fill="#f7b396"/>
<rect x="1880.10" y="653.71" width="98.80" height="8.61" fill="#f7b194"/>
<rect x="1880.10" y="646.10" width="98.80" height="8.61" fill="#f7b093"/>
<rect x="1880.10" y="638.50" width="98.80" height="8.61" fill="#f7af91"/>
<rect x="1880.10" y="630.89" width="98.80" height="8.61" fill="#f7ad90"/>
<rect x="1880.10" y="623.28" width="98.80" height="8.61" fill="#f7ac8e"/>
<rect x="1880.10" y="615.67" width="98.80" height="8.61" fill="#f7aa8c"/>
<rect x="1880.10" y="608.06" width="98.80" height="8.61" fill="#f7a98b"/>
<rect x="1880.10" y="600.46" width="98.80" height="8.61" fill="#f7a889"/>
<rect x="1880.10" y="592.85" width="98.80" height="8.61" fill="#f7a688"/>
<rect x="1880.10" y="585.24" width="98.80" height="8.61" fill="#f6a586"/>
<rect x="1880.10" y="577.63" width="98.80" height="8.61" fill="#f6a385"/>
<rect x="1880.10" y="570.02" width="98.80" height="8.61" fill="#f6a283"/>
<rect x="1880.10" y="562.42" width="98.80" height="8.61" fill="#f5a081"/>
<rect x="1880.10" y="554.81" width="98.80" height="8.61" fill="#f59f80"/>
<rect x="1880.10" y="547.20" width="98.80" height="8.61" fill="#f59d7e"/>
<rect x="1880.10" y="539.59" width="98.80" height="8.61" fill="#f59c7d"/>
<rect x="1880.10" y="531.98" width="98.80" height="8.61" fill="#f49a7b"/>
<rect x="1880.10" y="524.38" width="98.80" height="8.61" fill="#f4987a"/>
<rect x="1880.10" y="516.77" width="98.80" height="8.61" fill="#f39778"/>
<rect x="1880.10" y="509.16" width="98.80" height="8.61" fill="#f39577"/>
<rect x="1880.10" y="501.55" width="98.80" height="8.61" fill="#f39475"/>
<rect x="1880.10" y="493.95" width="98.80" height="8.61" fill="#f29274"/>
<rect x="1880.10" y="486.34" width="98.80" height="8.61" fill="#f29072"/>
<rect x="1880.10" y="478.73" width="98.80" height="8.61" fill="#f18f71"/>
<rect x="1880.10" y="471.12" width="98.80" height="8.61" fill="#f18d6f"/>
<rect x="1880.10" y="463.51" width="98.80" height="8.61" fill="#f08b6e"/>
<rect x="1880.10" y="455.91" width="98.80" height="8.61" fill="#f08a6c"/>
<rect x="1880.10" y="448.30" width="98.80" height="8.61" fill="#ef886b"/>
<rect x="1880.10" y="440.69" width="98.80" height="8.61" fill="#ee8669"/>
<rect x="1880.10" y="433.08" width="98.80" height="8.61" fill="#ee8468"/>
<rect x="1880.10" y="425.47" width="98.80" height="8.61" fill="#ed8366"/>
<rect x="1880.10" y="417.87" width="98.80" height="8.61" fill="#ec8165"/>
<rect x="1880.10" y="410.26" width="98.80" height="8.61" fill="#ec7f63"/>
<rect x="1880.10" y="402.65" width="98.80" height="8.61" fill="#eb7d62"/>
<rect x="1880.10" y="395.04" width="98.80" height="8.61" fill="#ea7b60"/>
<rect x="1880.10" y="387.44" width="98.80" height="8.61" fill="#e97a5f"/>
<rect x="1880.10" y="379.83" width="98.80" height="8.61" fill="#e9785d"/>
<rect x="1880.10" y="372.22" width="98.80" height="8.61" fill="#e8765c"/>
<rect x="1880.10" y="364.61" width="98.80" height="8.61" fill="#e7745b"/>
<rect x="1880.10" y="357.00" width="98.80" height="8.61" fill="#e67259"/>
<rect x="1880.10" y="349.40" width="98.80" height="8.61" fill="#e57058"/>
<rect x="1880.10" y="341.79" width="98.80" height="8.61" fill="#e46e56"/>
<rect x="1880.10" y="334.18" width="98.80" height="8.61" fill="#e36c55"/>
<rect x="1880.10" y="326.57" width="98.80" height="8.61" fill="#e36b54"/>
<rect x="1880.10" y="318.96" width="98.80" height="8.61" fill="#e26952"/>
<rect x="1880.10" y="311.36" width="98.80" height="8.61" fill="#e16751"/>
<rect x="1880.10" y="303.75" width="98.80" height="8.61" fill="#e0654f"/>
<rect x="1880.10" y="296.14" width="98.80" height="8.61" fill="#df634e"/>
<rect x="1880.10" y="288.53" width="98.80" height="8.61" fill="#de614d"/>
<rect x="1880.10" y="280.92" width="98.80" height="8.61" fill="#dd5f4b"/>
<rect x="1880.10" y="273.32" width="98.80" height="8.61" fill="#dc5d4a"/>
<rect x="1880.10" y="265.71" width="98.80" height="8.61" fill="#da5a49"/>
<rect x="1880.10" y="258.10" width="98.80" height="8.61" fill="#d95847"/>
<rect x="1880.10" y="250.49" width="98.80" height="8.61" fill="#d85646"/>
<rect x="1880.10" y="242.89" width="98.80" height="8.61" fill="#d75445"/>
<rect x="1880.10" y="235.28" width="98.80" height="8.61" fill="#d65244"/>
<rect x="1880.10" y="227.67" width="98.80" height="8.61" fill="#d55042"/>
<rect x="1880.10" y="220.06" width="98.80" height="8.61" fill="#d44e41"/>
<rect x="1880.10" y="212.45" width="98.80" height="8.61" fill="#d24b40"/>
<rect x="1880.10" y="204.85" width="98.80" height="8.61" fill="#d1493f"/>
<rect x="1880.10" y="197.24" width="98.80" height="8.61" fill="#d0473d"/>
<rect x="1880.10" y="189.63" width="98.80" height="8.61" fill="#cf453c"/>
<rect x="1880.10" y="182.02" width="98.80" height="8.61" fill="#cd423b"/>
<rect x="1880.10" y="174.41" width="98.80" height="8.61" fill="#cc403a"/>
<rect x="1880.10" y="166.81" width="98.80" height="8.61" fill="#cb3e38"/>
<rect x="1880.10" y="159.20" width="98.80" height="8.61" fill="#ca3b37"/>
<rect x="1880.10" y="151.59" width="98.80" height="8.61" fill="#c83836"/>
<rect x="1880.10" y="143.98" width="98.80" height="8.61" fill="#c73635"/>
<rect x="1880.10" y="136.37" width="98.80" height="8.61" fill="#c53334"/>
<rect x="1880.10" y="128.77" width="98.80" height="8.61" fill="#c43032"/>
<rect x="1880.10" y="121.16" width="98.80" height="8.61" fill="#c32e31"/>
<rect x="1880.10" y="113.55" width="98.80" height="8.61" fill="#c12b30"/>
<rect x="1880.10" y="105.94" width="98.80" height="8.61" fill="#c0282f"/>
<rect x="1880.10" y="98.34" width="98.80" height="8.61" fill="#be242e"/>
<rect x="1880.10" y="90.73" width="98.80" height="8.61" fill="#bd1f2d"/>
<rect x="1880.10" y="83.12" width="98.80" height="8.61" fill="#bb1b2c"/>
<rect x="1880.10" y="75.51" width="98.80" height="8.61" fill="#ba162b"/>
<rect x="1880.10" y="67.90" width="98.80" height="8.61" fill="#b8122a"/>
<rect x="1880.10" y="60.30" width="98.80" height="8.61" fill="#b70d28"/>
<rect x="1880.10" y="52.69" width="98.80" height="8.61" fill="#b50927"/>
<rect x="1880.10" y="45.08" width="98.80" height="8.61" fill="#b40426"/>
</g>
<g fill="#000" shape-rendering="crispEdges">
<rect x="201.00" y="113.00" width="15.00" height="4.00"/>
<rect x="270.00" y="1992.00" width="4.00" height="15.00"/>
<rect x="201.00" y="252.00" width="15.00" height="4.00"/>
<rect x="382.00" y="1992.00" width="4.00" height="15.00"/>
<rect x="201.00" y="391.00" width="15.00" height="4.00"/>
<rect x="494.00" y="1992.00" width="4.00" height="15.00"/>
<rect x="201.00" y="530.00" width="15.00" height="4.00"/>
<rect x="606.00" y="1992.00" width="4.00" height="15.00"/>
<rect x="201.00" y="669.00" width="15.00" height="4.00"/>
<rect x="718.00" y="1992.00" width="4.00" height="15.00"/>
<rect x="201.00" y="808.00" width="15.00" height="4.00"/>
<rect x="830.00" y="1992.00" width="4.00" height="15.00"/>
<rect x="201.00" y="947.00" width="15.00" height="4.00"/>
<rect x="942.00" y="1992.00" width="4.00" height="15.00"/>
<rect x="201.00" y="1086.00" width="15.00" height="4.00"/>
<rect x="1054.00" y="1992.00" width="4.00" height="15.00"/>
<rect x="201.00" y="1225.00" width="15.00" height="4.00"/>
<rect x="1166.00" y="1992.00" width="4.00" height="15.00"/>
<rect x="201.00" y="1364.00" width="15.00" height="4.00"/>
<rect x="1278.00" y="1992.00" width="4.00" height="15.00"/>
<rect x="201.00" y="1504.00" width="15.00" height="4.00"/>
<rect x="1390.00" y="1992.00" width="4.00" height="15.00"/>
<rect x="201.00" y="1643.00" width="15.00" height="4.00"/>
<rect x="1502.00" y="1992.00" width="4.00" height="15.00"/>
<rect x="201.00" y="1782.00" width="15.00" height="4.00"/>
<rect x="1614.00" y="1992.00" width="4.00" height="15.00"/>
<rect x="201.00" y="1921.00" width="15.00" height="4.00"/>
<rect x="1726.00" y="1992.00" width="4.00" height="15.00"/>
<rect x="1977.90" y="43.00" width="15.00" height="4.00"/>
<rect x="1977.90" y="287.00" width="15.00" height="4.00"/>
<rect x="1977.90" y="530.00" width="15.00" height="4.00"/>
<rect x="1977.90" y="773.00" width="15.00" height="4.00"/>
<rect x="1977.90" y="1017.00" width="15.00" height="4.00"/>
<rect x="1977.90" y="1260.00" width="15.00" height="4.00"/>
<rect x="1977.90" y="1504.00" width="15.00" height="4.00"/>
<rect x="1977.90" y="1747.00" width="15.00" height="4.00"/>
<rect x="1977.90" y="1990.00" width="15.00" height="4.00"/>
</g>
<text class="k e" transform="translate(189.50 124.66) scale(1.0421 1)">WL29</text>
<text class="k e" transform="translate(189.50 263.76) scale(1.0421 1)">DC29</text>
<text class="k e" transform="translate(189.50 402.86) scale(1.0421 1)">WL25</text>
<text class="k e" transform="translate(189.50 541.96) scale(1.0421 1)">DC25</text>
<text class="k e" transform="translate(189.50 681.06) scale(1.0421 1)">Precip25</text>
<text class="k e" transform="translate(189.50 820.16) scale(1.0421 1)">WL18</text>
<text class="k e" transform="translate(189.50 959.26) scale(1.0421 1)">DC18</text>
<text class="k e" transform="translate(189.50 1098.36) scale(1.0421 1)">Precip18</text>
<text class="k e" transform="translate(189.50 1237.46) scale(1.0421 1)">WL31</text>
<text class="k e" transform="translate(189.50 1376.56) scale(1.0421 1)">DC31</text>
<text class="k e" transform="translate(189.50 1515.66) scale(1.0421 1)">WL01</text>
<text class="k e" transform="translate(189.50 1654.76) scale(1.0421 1)">DC01</text>
<text class="k e" transform="translate(189.50 1793.86) scale(1.0421 1)">WL13</text>
<text class="k e" transform="translate(189.50 1932.96) scale(1.0421 1)">DC13</text>
<text class="k e" transform="translate(281.50 2018.00) rotate(-90) scale(1.0421 1)">WL29</text>
<text class="k e" transform="translate(393.50 2018.00) rotate(-90) scale(1.0421 1)">DC29</text>
<text class="k e" transform="translate(505.50 2018.00) rotate(-90) scale(1.0421 1)">WL25</text>
<text class="k e" transform="translate(617.50 2018.00) rotate(-90) scale(1.0421 1)">DC25</text>
<text class="k e" transform="translate(729.50 2018.00) rotate(-90) scale(1.0421 1)">Precip25</text>
<text class="k e" transform="translate(841.50 2018.00) rotate(-90) scale(1.0421 1)">WL18</text>
<text class="k e" transform="translate(953.50 2018.00) rotate(-90) scale(1.0421 1)">DC18</text>
<text class="k e" transform="translate(1065.50 2018.00) rotate(-90) scale(1.0421 1)">Precip18</text>
<text class="k e" transform="translate(1177.50 2018.00) rotate(-90) scale(1.0421 1)">WL31</text>
<text class="k e" transform="translate(1289.50 2018.00) rotate(-90) scale(1.0421 1)">DC31</text>
<text class="k e" transform="translate(1401.50 2018.00) rotate(-90) scale(1.0421 1)">WL01</text>
<text class="k e" transform="translate(1513.50 2018.00) rotate(-90) scale(1.0421 1)">DC01</text>
<text class="k e" transform="translate(1625.50 2018.00) rotate(-90) scale(1.0421 1)">WL13</text>
<text class="k e" transform="translate(1737.50 2018.00) rotate(-90) scale(1.0421 1)">DC13</text>
<text class="k" transform="translate(2006.00 59.00) scale(1.0421 1)">1.00</text>
<text class="k" transform="translate(2006.00 303.00) scale(1.0421 1)">0.75</text>
<text class="k" transform="translate(2006.00 546.00) scale(1.0421 1)">0.50</text>
<text class="k" transform="translate(2006.00 789.00) scale(1.0421 1)">0.25</text>
<text class="k" transform="translate(2006.00 1033.00) scale(1.0421 1)">0.00</text>
<text class="k" transform="translate(2006.00 1276.00) scale(1.0421 1)">−0.25</text>
<text class="k" transform="translate(2006.00 1520.00) scale(1.0421 1)">−0.50</text>
<text class="k" transform="translate(2006.00 1763.00) scale(1.0421 1)">−0.75</text>
<text class="k" transform="translate(2006.00 2006.00) scale(1.0421 1)">−1.00</text>
<text class="a w" transform="translate(272.00 125.06) scale(1.0421 1)">1</text>
<text class="a w" transform="translate(384.00 125.06) scale(1.0421 1)">0.78</text>
<text class="a w" transform="translate(496.00 125.06) scale(1.0421 1)">0.66</text>
<text class="a w" transform="translate(608.00 125.06) scale(1.0421 1)">0.65</text>
<text class="a d" transform="translate(720.00 125.06) scale(1.0421 1)">0.1</text>
<text class="a w" transform="translate(832.00 125.06) scale(1.0421 1)">0.71</text>
<text class="a w" transform="translate(944.00 125.06) scale(1.0421 1)">0.66</text>
<text class="a d" transform="translate(1056.00 125.06) scale(1.0421 1)">0.11</text>
<text class="a d" transform="translate(1168.00 125.06) scale(1.0421 1)">0.36</text>
<text class="a d" transform="translate(1280.00 125.06) scale(1.0421 1)">0.47</text>
<text class="a w" transform="translate(1392.00 125.06) scale(1.0421 1)">0.59</text>
<text class="a w" transform="translate(1504.00 125.06) scale(1.0421 1)">0.6</text>
<text class="a w" transform="translate(1616.00 125.06) scale(1.0421 1)">0.58</text>
<text class="a w" transform="translate(1728.00 125.06) scale(1.0421 1)">0.56</text>
<text class="a w" transform="translate(272.00 264.16) scale(1.0421 1)">0.78</text>
<text class="a w" transform="translate(384.00 264.16) scale(1.0421 1)">1</text>
<text class="a w" transform="translate(496.00 264.16) scale(1.0421 1)">0.72</text>
<text class="a w" transform="translate(608.00 264.16) scale(1.0421 1)">0.77</text>
<text class="a d" transform="translate(720.00 264.16) scale(1.0421 1)">0.14</text>
<text class="a w" transform="translate(832.00 264.16) scale(1.0421 1)">0.79</text>
<text class="a w" transform="translate(944.00 264.16) scale(1.0421 1)">0.79</text>
<text class="a d" transform="translate(1056.00 264.16) scale(1.0421 1)">0.14</text>
<text class="a d" transform="translate(1168.00 264.16) scale(1.0421 1)">0.39</text>
<text class="a w" transform="translate(1280.00 264.16) scale(1.0421 1)">0.55</text>
<text class="a w" transform="translate(1392.00 264.16) scale(1.0421 1)">0.67</text>
<text class="a w" transform="translate(1504.00 264.16) scale(1.0421 1)">0.7</text>
<text class="a w" transform="translate(1616.00 264.16) scale(1.0421 1)">0.73</text>
<text class="a w" transform="translate(1728.00 264.16) scale(1.0421 1)">0.71</text>
<text class="a w" transform="translate(272.00 403.26) scale(1.0421 1)">0.66</text>
<text class="a w" transform="translate(384.00 403.26) scale(1.0421 1)">0.72</text>
<text class="a w" transform="translate(496.00 403.26) scale(1.0421 1)">1</text>
<text class="a w" transform="translate(608.00 403.26) scale(1.0421 1)">0.96</text>
<text class="a d" transform="translate(720.00 403.26) scale(1.0421 1)">0.097</text>
<text class="a w" transform="translate(832.00 403.26) scale(1.0421 1)">0.84</text>
<text class="a w" transform="translate(944.00 403.26) scale(1.0421 1)">0.74</text>
<text class="a d" transform="translate(1056.00 403.26) scale(1.0421 1)">0.1</text>
<text class="a d" transform="translate(1168.00 403.26) scale(1.0421 1)">0.52</text>
<text class="a w" transform="translate(1280.00 403.26) scale(1.0421 1)">0.65</text>
<text class="a w" transform="translate(1392.00 403.26) scale(1.0421 1)">0.87</text>
<text class="a w" transform="translate(1504.00 403.26) scale(1.0421 1)">0.88</text>
<text class="a w" transform="translate(1616.00 403.26) scale(1.0421 1)">0.79</text>
<text class="a w" transform="translate(1728.00 403.26) scale(1.0421 1)">0.76</text>
<text class="a w" transform="translate(272.00 542.36) scale(1.0421 1)">0.65</text>
<text class="a w" transform="translate(384.00 542.36) scale(1.0421 1)">0.77</text>
<text class="a w" transform="translate(496.00 542.36) scale(1.0421 1)">0.96</text>
<text class="a w" transform="translate(608.00 542.36) scale(1.0421 1)">1</text>
<text class="a d" transform="translate(720.00 542.36) scale(1.0421 1)">0.1</text>
<text class="a w" transform="translate(832.00 542.36) scale(1.0421 1)">0.83</text>
<text class="a w" transform="translate(944.00 542.36) scale(1.0421 1)">0.78</text>
<text class="a d" transform="translate(1056.00 542.36) scale(1.0421 1)">0.11</text>
<text class="a d" transform="translate(1168.00 542.36) scale(1.0421 1)">0.48</text>
<text class="a w" transform="translate(1280.00 542.36) scale(1.0421 1)">0.66</text>
<text class="a w" transform="translate(1392.00 542.36) scale(1.0421 1)">0.88</text>
<text class="a w" transform="translate(1504.00 542.36) scale(1.0421 1)">0.9</text>
<text class="a w" transform="translate(1616.00 542.36) scale(1.0421 1)">0.82</text>
<text class="a w" transform="translate(1728.00 542.36) scale(1.0421 1)">0.81</text>
<text class="a d" transform="translate(272.00 681.46) scale(1.0421 1)">0.1</text>
<text class="a d" transform="translate(384.00 681.46) scale(1.0421 1)">0.14</text>
<text class="a d" transform="translate(496.00 681.46) scale(1.0421 1)">0.097</text>
<text class="a d" transform="translate(608.00 681.46) scale(1.0421 1)">0.1</text>
<text class="a w" transform="translate(720.00 681.46) scale(1.0421 1)">1</text>
<text class="a d" transform="translate(832.00 681.46) scale(1.0421 1)">0.066</text>
<text class="a d" transform="translate(944.00 681.46) scale(1.0421 1)">0.069</text>
<text class="a w" transform="translate(1056.00 681.46) scale(1.0421 1)">0.89</text>
<text class="a d" transform="translate(1168.00 681.46) scale(1.0421 1)">0.14</text>
<text class="a d" transform="translate(1280.00 681.46) scale(1.0421 1)">0.27</text>
<text class="a d" transform="translate(1392.00 681.46) scale(1.0421 1)">0.069</text>
<text class="a d" transform="translate(1504.00 681.46) scale(1.0421 1)">0.065</text>
<text class="a d" transform="translate(1616.00 681.46) scale(1.0421 1)">0.12</text>
<text class="a d" transform="translate(1728.00 681.46) scale(1.0421 1)">0.13</text>
<text class="a w" transform="translate(272.00 820.56) scale(1.0421 1)">0.71</text>
<text class="a w" transform="translate(384.00 820.56) scale(1.0421 1)">0.79</text>
<text class="a w" transform="translate(496.00 820.56) scale(1.0421 1)">0.84</text>
<text class="a w" transform="translate(608.00 820.56) scale(1.0421 1)">0.83</text>
<text class="a d" transform="translate(720.00 820.56) scale(1.0421 1)">0.066</text>
<text class="a w" transform="translate(832.00 820.56) scale(1.0421 1)">1</text>
<text class="a w" transform="translate(944.00 820.56) scale(1.0421 1)">0.95</text>
<text class="a d" transform="translate(1056.00 820.56) scale(1.0421 1)">0.071</text>
<text class="a d" transform="translate(1168.00 820.56) scale(1.0421 1)">0.45</text>
<text class="a w" transform="translate(1280.00 820.56) scale(1.0421 1)">0.54</text>
<text class="a w" transform="translate(1392.00 820.56) scale(1.0421 1)">0.81</text>
<text class="a w" transform="translate(1504.00 820.56) scale(1.0421 1)">0.83</text>
<text class="a w" transform="translate(1616.00 820.56) scale(1.0421 1)">0.74</text>
<text class="a w" transform="translate(1728.00 820.56) scale(1.0421 1)">0.73</text>
<text class="a w" transform="translate(272.00 959.66) scale(1.0421 1)">0.66</text>
<text class="a w" transform="translate(384.00 959.66) scale(1.0421 1)">0.79</text>
<text class="a w" transform="translate(496.00 959.66) scale(1.0421 1)">0.74</text>
<text class="a w" transform="translate(608.00 959.66) scale(1.0421 1)">0.78</text>
<text class="a d" transform="translate(720.00 959.66) scale(1.0421 1)">0.069</text>
<text class="a w" transform="translate(832.00 959.66) scale(1.0421 1)">0.95</text>
<text class="a w" transform="translate(944.00 959.66) scale(1.0421 1)">1</text>
<text class="a d" transform="translate(1056.00 959.66) scale(1.0421 1)">0.074</text>
<text class="a d" transform="translate(1168.00 959.66) scale(1.0421 1)">0.38</text>
<text class="a d" transform="translate(1280.00 959.66) scale(1.0421 1)">0.49</text>
<text class="a w" transform="translate(1392.00 959.66) scale(1.0421 1)">0.72</text>
<text class="a w" transform="translate(1504.00 959.66) scale(1.0421 1)">0.75</text>
<text class="a w" transform="translate(1616.00 959.66) scale(1.0421 1)">0.71</text>
<text class="a w" transform="translate(1728.00 959.66) scale(1.0421 1)">0.71</text>
<text class="a d" transform="translate(272.00 1098.76) scale(1.0421 1)">0.11</text>
<text class="a d" transform="translate(384.00 1098.76) scale(1.0421 1)">0.14</text>
<text class="a d" transform="translate(496.00 1098.76) scale(1.0421 1)">0.1</text>
<text class="a d" transform="translate(608.00 1098.76) scale(1.0421 1)">0.11</text>
<text class="a w" transform="translate(720.00 1098.76) scale(1.0421 1)">0.89</text>
<text class="a d" transform="translate(832.00 1098.76) scale(1.0421 1)">0.071</text>
<text class="a d" transform="translate(944.00 1098.76) scale(1.0421 1)">0.074</text>
<text class="a w" transform="translate(1056.00 1098.76) scale(1.0421 1)">1</text>
<text class="a d" transform="translate(1168.00 1098.76) scale(1.0421 1)">0.17</text>
<text class="a d" transform="translate(1280.00 1098.76) scale(1.0421 1)">0.31</text>
<text class="a d" transform="translate(1392.00 1098.76) scale(1.0421 1)">0.074</text>
<text class="a d" transform="translate(1504.00 1098.76) scale(1.0421 1)">0.068</text>
<text class="a d" transform="translate(1616.00 1098.76) scale(1.0421 1)">0.13</text>
<text class="a d" transform="translate(1728.00 1098.76) scale(1.0421 1)">0.14</text>
<text class="a d" transform="translate(272.00 1237.86) scale(1.0421 1)">0.36</text>
<text class="a d" transform="translate(384.00 1237.86) scale(1.0421 1)">0.39</text>
<text class="a d" transform="translate(496.00 1237.86) scale(1.0421 1)">0.52</text>
<text class="a d" transform="translate(608.00 1237.86) scale(1.0421 1)">0.48</text>
<text class="a d" transform="translate(720.00 1237.86) scale(1.0421 1)">0.14</text>
<text class="a d" transform="translate(832.00 1237.86) scale(1.0421 1)">0.45</text>
<text class="a d" transform="translate(944.00 1237.86) scale(1.0421 1)">0.38</text>
<text class="a d" transform="translate(1056.00 1237.86) scale(1.0421 1)">0.17</text>
<text class="a w" transform="translate(1168.00 1237.86) scale(1.0421 1)">1</text>
<text class="a w" transform="translate(1280.00 1237.86) scale(1.0421 1)">0.64</text>
<text class="a d" transform="translate(1392.00 1237.86) scale(1.0421 1)">0.51</text>
<text class="a d" transform="translate(1504.00 1237.86) scale(1.0421 1)">0.46</text>
<text class="a d" transform="translate(1616.00 1237.86) scale(1.0421 1)">0.47</text>
<text class="a d" transform="translate(1728.00 1237.86) scale(1.0421 1)">0.45</text>
<text class="a d" transform="translate(272.00 1376.96) scale(1.0421 1)">0.47</text>
<text class="a w" transform="translate(384.00 1376.96) scale(1.0421 1)">0.55</text>
<text class="a w" transform="translate(496.00 1376.96) scale(1.0421 1)">0.65</text>
<text class="a w" transform="translate(608.00 1376.96) scale(1.0421 1)">0.66</text>
<text class="a d" transform="translate(720.00 1376.96) scale(1.0421 1)">0.27</text>
<text class="a w" transform="translate(832.00 1376.96) scale(1.0421 1)">0.54</text>
<text class="a d" transform="translate(944.00 1376.96) scale(1.0421 1)">0.49</text>
<text class="a d" transform="translate(1056.00 1376.96) scale(1.0421 1)">0.31</text>
<text class="a w" transform="translate(1168.00 1376.96) scale(1.0421 1)">0.64</text>
<text class="a w" transform="translate(1280.00 1376.96) scale(1.0421 1)">1</text>
<text class="a w" transform="translate(1392.00 1376.96) scale(1.0421 1)">0.66</text>
<text class="a w" transform="translate(1504.00 1376.96) scale(1.0421 1)">0.64</text>
<text class="a w" transform="translate(1616.00 1376.96) scale(1.0421 1)">0.71</text>
<text class="a w" transform="translate(1728.00 1376.96) scale(1.0421 1)">0.69</text>
<text class="a w" transform="translate(272.00 1516.06) scale(1.0421 1)">0.59</text>
<text class="a w" transform="translate(384.00 1516.06) scale(1.0421 1)">0.67</text>
<text class="a w" transform="translate(496.00 1516.06) scale(1.0421 1)">0.87</text>
<text class="a w" transform="translate(608.00 1516.06) scale(1.0421 1)">0.88</text>
<text class="a d" transform="translate(720.00 1516.06) scale(1.0421 1)">0.069</text>
<text class="a w" transform="translate(832.00 1516.06) scale(1.0421 1)">0.81</text>
<text class="a w" transform="translate(944.00 1516.06) scale(1.0421 1)">0.72</text>
<text class="a d" transform="translate(1056.00 1516.06) scale(1.0421 1)">0.074</text>
<text class="a d" transform="translate(1168.00 1516.06) scale(1.0421 1)">0.51</text>
<text class="a w" transform="translate(1280.00 1516.06) scale(1.0421 1)">0.66</text>
<text class="a w" transform="translate(1392.00 1516.06) scale(1.0421 1)">1</text>
<text class="a w" transform="translate(1504.00 1516.06) scale(1.0421 1)">0.97</text>
<text class="a w" transform="translate(1616.00 1516.06) scale(1.0421 1)">0.88</text>
<text class="a w" transform="translate(1728.00 1516.06) scale(1.0421 1)">0.86</text>
<text class="a w" transform="translate(272.00 1655.16) scale(1.0421 1)">0.6</text>
<text class="a w" transform="translate(384.00 1655.16) scale(1.0421 1)">0.7</text>
<text class="a w" transform="translate(496.00 1655.16) scale(1.0421 1)">0.88</text>
<text class="a w" transform="translate(608.00 1655.16) scale(1.0421 1)">0.9</text>
<text class="a d" transform="translate(720.00 1655.16) scale(1.0421 1)">0.065</text>
<text class="a w" transform="translate(832.00 1655.16) scale(1.0421 1)">0.83</text>
<text class="a w" transform="translate(944.00 1655.16) scale(1.0421 1)">0.75</text>
<text class="a d" transform="translate(1056.00 1655.16) scale(1.0421 1)">0.068</text>
<text class="a d" transform="translate(1168.00 1655.16) scale(1.0421 1)">0.46</text>
<text class="a w" transform="translate(1280.00 1655.16) scale(1.0421 1)">0.64</text>
<text class="a w" transform="translate(1392.00 1655.16) scale(1.0421 1)">0.97</text>
<text class="a w" transform="translate(1504.00 1655.16) scale(1.0421 1)">1</text>
<text class="a w" transform="translate(1616.00 1655.16) scale(1.0421 1)">0.89</text>
<text class="a w" transform="translate(1728.00 1655.16) scale(1.0421 1)">0.89</text>
<text class="a w" transform="translate(272.00 1794.26) scale(1.0421 1)">0.58</text>
<text class="a w" transform="translate(384.00 1794.26) scale(1.0421 1)">0.73</text>
<text class="a w" transform="translate(496.00 1794.26) scale(1.0421 1)">0.79</text>
<text class="a w" transform="translate(608.00 1794.26) scale(1.0421 1)">0.82</text>
<text class="a d" transform="translate(720.00 1794.26) scale(1.0421 1)">0.12</text>
<text class="a w" transform="translate(832.00 1794.26) scale(1.0421 1)">0.74</text>
<text class="a w" transform="translate(944.00 1794.26) scale(1.0421 1)">0.71</text>
<text class="a d" transform="translate(1056.00 1794.26) scale(1.0421 1)">0.13</text>
<text class="a d" transform="translate(1168.00 1794.26) scale(1.0421 1)">0.47</text>
<text class="a w" transform="translate(1280.00 1794.26) scale(1.0421 1)">0.71</text>
<text class="a w" transform="translate(1392.00 1794.26) scale(1.0421 1)">0.88</text>
<text class="a w" transform="translate(1504.00 1794.26) scale(1.0421 1)">0.89</text>
<text class="a w" transform="translate(1616.00 1794.26) scale(1.0421 1)">1</text>
<text class="a w" transform="translate(1728.00 1794.26) scale(1.0421 1)">0.98</text>
<text class="a w" transform="translate(272.00 1933.36) scale(1.0421 1)">0.56</text>
<text class="a w" transform="translate(384.00 1933.36) scale(1.0421 1)">0.71</text>
<text class="a w" transform="translate(496.00 1933.36) scale(1.0421 1)">0.76</text>
<text class="a w" transform="translate(608.00 1933.36) scale(1.0421 1)">0.81</text>
<text class="a d" transform="translate(720.00 1933.36) scale(1.0421 1)">0.13</text>
<text class="a w" transform="translate(832.00 1933.36) scale(1.0421 1)">0.73</text>
<text class="a w" transform="translate(944.00 1933.36) scale(1.0421 1)">0.71</text>
<text class="a d" transform="translate(1056.00 1933.36) scale(1.0421 1)">0.14</text>
<text class="a d" transform="translate(1168.00 1933.36) scale(1.0421 1)">0.45</text>
<text class="a w" transform="translate(1280.00 1933.36) scale(1.0421 1)">0.69</text>
<text class="a w" transform="translate(1392.00 1933.36) scale(1.0421 1)">0.86</text>
<text class="a w" transform="translate(1504.00 1933.36) scale(1.0421 1)">0.89</text>
<text class="a w" transform="translate(1616.00 1933.36) scale(1.0421 1)">0.98</text>
<text class="a w" transform="translate(1728.00 1933.36) scale(1.0421 1)">1</text>
</svg></body></html>
